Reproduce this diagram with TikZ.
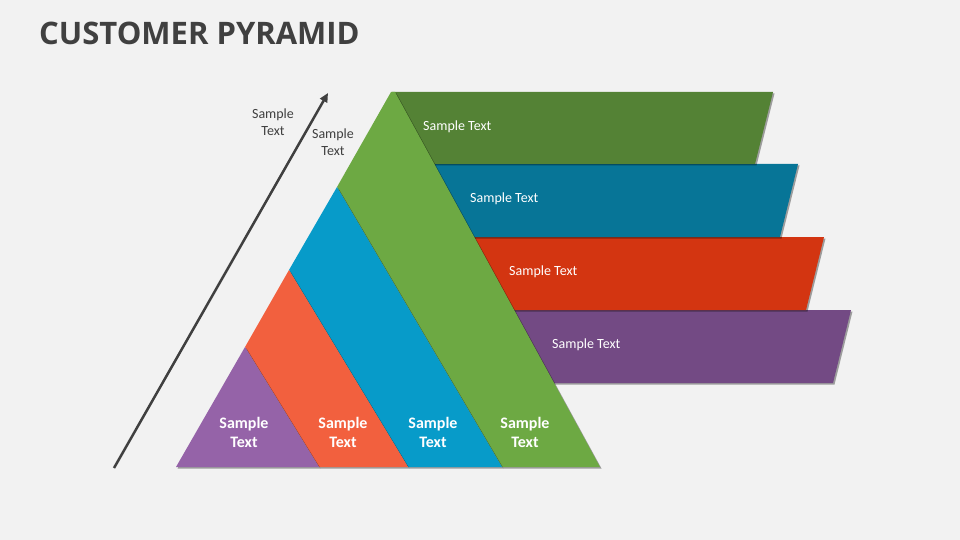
\documentclass[tikz,border=0pt]{standalone}
\usepackage{fontspec}
\setmainfont{Carlito}
\newfontfamily\titlefont{Open Sans}
\usetikzlibrary{arrows.meta,shadows}
\definecolor{bg}{HTML}{F2F2F2}
\definecolor{txtgray}{HTML}{404040}
\definecolor{gband}{HTML}{548235}
\definecolor{bband}{HTML}{077597}
\definecolor{rband}{HTML}{D33511}
\definecolor{pband}{HTML}{734A84}
\definecolor{gstrip}{HTML}{6DA943}
\definecolor{bstrip}{HTML}{079BC9}
\definecolor{rstrip}{HTML}{F2603E}
\definecolor{pstrip}{HTML}{9563A8}
\tikzset{
  shd/.style={drop shadow={shadow xshift=1.5pt, shadow yshift=-1.5pt, opacity=0.35, fill=black}},
  bandlbl/.style={text=white, font=\fontsize{14}{16}\selectfont, anchor=west, inner sep=0pt},
  striplbl/.style={text=white, font=\bfseries\fontsize{16}{19}\selectfont, align=center, inner sep=0pt},
  arrlbl/.style={text=txtgray, font=\fontsize{14}{17}\selectfont, align=center, inner sep=0pt},
}
\begin{document}
\begin{tikzpicture}[x=1pt,y=-1pt]
\fill[bg] (0,0) rectangle (960,540);
\useasboundingbox (0,0) rectangle (960,540);
% title
\node[anchor=base west, inner sep=0pt, text=txtgray, font=\titlefont\bfseries\fontsize{31}{35}\selectfont] (title) at (39,45) {CUSTOMER PYRAMID};
% right bands (bottom to top)
\fill[pband, shd] (505,310) -- (851,310) -- (833,383) -- (540,383) -- cycle;
\fill[rband, shd] (465,237) -- (824,237) -- (806,310) -- (500,310) -- cycle;
\fill[bband, shd] (425,164) -- (798,164) -- (780,237) -- (460,237) -- cycle;
\fill[gband, shd] (392,92) -- (773,92) -- (755,164) -- (420,164) -- cycle;
% pyramid strips
\fill[gstrip, shd] (337,187) -- (391,92) -- (395,92) -- (600,467) -- (502,467) -- cycle;
\fill[bstrip, shd] (289,270) -- (337,187) -- (502,467) -- (408,467) -- cycle;
\fill[rstrip, shd] (245,347) -- (289,270) -- (408,467) -- (319,467) -- cycle;
\fill[pstrip, shd] (176,467) -- (245,347) -- (319,467) -- cycle;
% arrow
\coordinate (arrS) at (114,468);
\coordinate (arrE) at (328,93);
\draw[txtgray, line width=2.5pt, -{Triangle[length=9pt,width=8pt]}] (arrS) -- (arrE);
% labels
\node[arrlbl] (al1) at (273,122) {Sample\\Text};
\node[arrlbl] (al2) at (333,142) {Sample\\Text};
\node[bandlbl] (bl1) at (423,127) {Sample Text};
\node[bandlbl] (bl2) at (470,199) {Sample Text};
\node[bandlbl] (bl3) at (509,272) {Sample Text};
\node[bandlbl] (bl4) at (552,345) {Sample Text};
\node[striplbl] (sl1) at (244,432) {Sample\\Text};
\node[striplbl] (sl2) at (343,432) {Sample\\Text};
\node[striplbl] (sl3) at (433,432) {Sample\\Text};
\node[striplbl] (sl4) at (525,432) {Sample\\Text};
\end{tikzpicture}
\end{document}
